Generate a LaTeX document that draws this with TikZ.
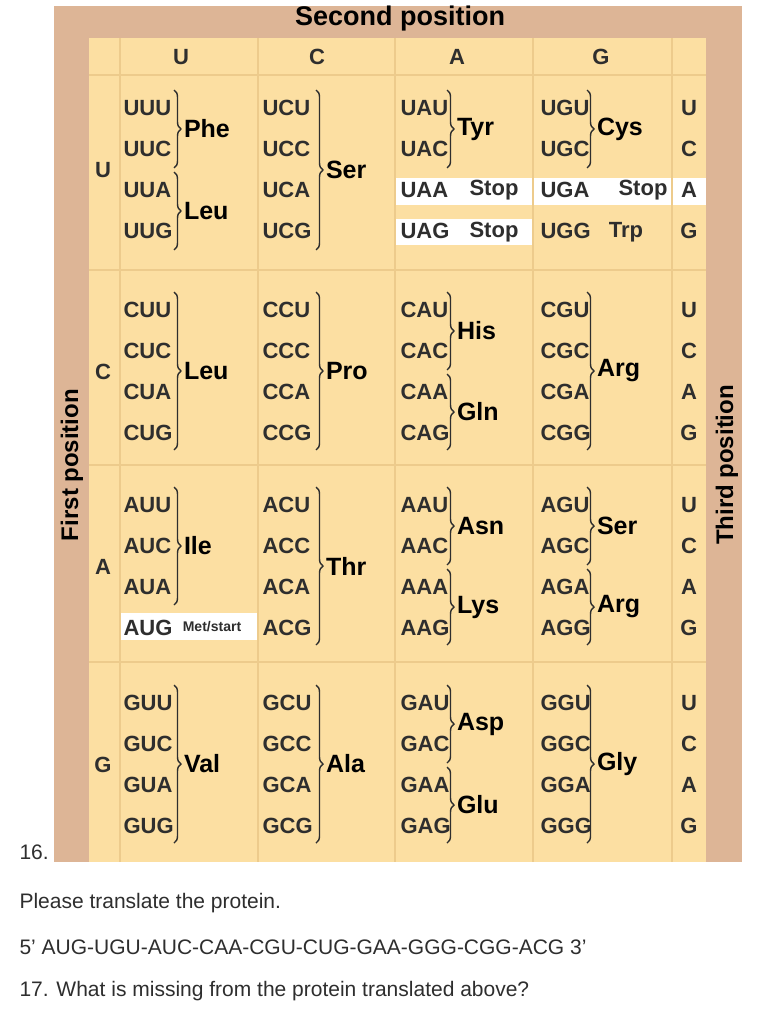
\documentclass[tikz,border=0pt]{standalone}
\usepackage{fontspec}
\setmainfont{Liberation Sans}
\usetikzlibrary{decorations.pathreplacing}
\definecolor{frame}{HTML}{DDB596}
\definecolor{cream}{HTML}{FCDFA2}
\definecolor{rule}{HTML}{EDCB8C}
\definecolor{ink}{HTML}{2E2E2E}
\newcommand*{\codon}{\fontsize{22}{24}\selectfont\bfseries}
\newcommand*{\amino}{\fontsize{25}{27}\selectfont\bfseries}
% brace: x, top y, bottom y, label
\newcommand*{\brc}[4]{%
    \draw [ink,line width=1.4pt,decorate,decoration={brace,amplitude=7pt}]
    (#1,#2) -- (#1,#3) node [black,midway,anchor=west,xshift=6pt,font=\amino] {#4};}

\begin{document}
\begin{tikzpicture}[x=1pt,y=-1pt]
    \useasboundingbox (0,0) rectangle (781,1024);
    \fill [white] (0,0) rectangle (781,1024);
    \fill [frame] (54,6) rectangle (742,862);
    \fill [cream] (89,38) rectangle (706,862);

    % highlighted rows
    \fill [white] (396,178) rectangle (706,205);
    \fill [white] (396,219) rectangle (533,245);
    \fill [white] (121,613) rectangle (257,640);

    \foreach \i in {120,258,395,533,672} {
        \draw [rule,line width=1.2pt] (\i,38) -- (\i,862);
    }
    \foreach \i in {75,270,465,662} {
        \draw [rule,line width=1.2pt] (89,\i) -- (706,\i);
    }

    \node [font=\fontsize{27}{29}\selectfont\bfseries] at (400,19) {Second position};
    \node [font=\fontsize{24}{26}\selectfont\bfseries,rotate=90] at (72,465) {First position};
    \node [font=\fontsize{24}{26}\selectfont\bfseries,rotate=90] at (727,465) {Third position};

    \foreach \s/\x in {U/181,C/317,A/457,G/601} {
        \node [ink,font=\codon] at (\x,57) {\s};
    }

    \foreach \f/\y in {U/108,C/310,A/505,G/703} {
        \node [ink,font=\codon] at (103,\y+62) {\f};
        \foreach \t [count=\r from 0] in {U,C,A,G} {
            \node [ink,font=\codon] at (689,\y+41*\r) {\t};
            \foreach \s/\x in {U/120,C/259,A/397,G/537} {
                \node [ink,font=\codon,anchor=west] at (\x,\y+41*\r) {\f\s\t};
            }
        }
    }

    % U block
    \brc{174}{90}{168}{Phe}
    \brc{174}{172}{250}{Leu}
    \brc{316}{90}{250}{Ser}
    \brc{447}{90}{168}{Tyr}
    \brc{587}{90}{168}{Cys}
    \node [ink,font=\codon] at (494,190) {Stop};
    \node [ink,font=\codon] at (643,190) {Stop};
    \node [ink,font=\codon] at (494,232) {Stop};
    \node [ink,font=\codon] at (626,232) {Trp};
    % C block
    \brc{174}{292}{450}{Leu}
    \brc{316}{292}{450}{Pro}
    \brc{447}{292}{370}{His}
    \brc{447}{374}{450}{Gln}
    \brc{587}{292}{450}{Arg}
    % A block
    \brc{174}{487}{605}{Ile}
    \node [ink,font=\fontsize{14}{16}\selectfont\bfseries] at (212,627) {Met/start};
    \brc{316}{487}{645}{Thr}
    \brc{447}{487}{565}{Asn}
    \brc{447}{569}{645}{Lys}
    \brc{587}{487}{565}{Ser}
    \brc{587}{569}{645}{Arg}
    % G block
    \brc{174}{685}{843}{Val}
    \brc{316}{685}{843}{Ala}
    \brc{447}{685}{763}{Asp}
    \brc{447}{767}{843}{Glu}
    \brc{587}{685}{843}{Gly}

    \begin{scope}[every node/.style={anchor=west,text=ink,font=\fontsize{21}{23}\selectfont}]
        \node at (16,852) {16.};
        \node at (16,903) {Please translate the protein.};
        \node at (16,947) {5' AUG-UGU-AUC-CAA-CGU-CUG-GAA-GGG-CGG-ACG 3'};
        \node at (16,991) {17. What is missing from the protein translated above?};
    \end{scope}
\end{tikzpicture}
\end{document}
